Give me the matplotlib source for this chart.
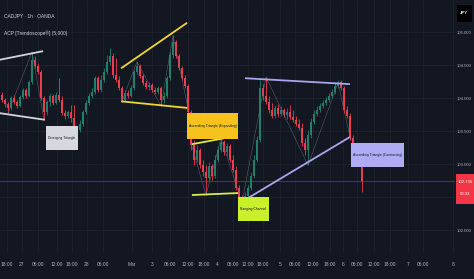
import matplotlib
matplotlib.use("Agg")
import matplotlib.pyplot as plt
import numpy as np
from matplotlib.patches import Rectangle
from matplotlib.transforms import IdentityTransform

# ---------------- data (CADJPY 1h, OANDA) ----------------
first_open = 104.05
closes = [103.97, 103.91, 103.85, 104.00, 103.94, 103.88, 104.02, 104.12, 104.03, 104.24,
          104.58, 104.48, 104.39, 104.00, 103.79, 103.94, 104.03, 103.92, 104.05, 103.97,
          103.77, 103.73, 103.79, 103.70, 103.39, 103.52, 103.61, 103.79, 103.92, 104.03,
          104.09, 104.30, 104.12, 104.27, 104.39, 104.55, 104.64, 104.35, 104.27, 104.15,
          103.97, 104.08, 104.03, 104.15, 104.39, 104.48, 104.33, 104.23, 104.17, 104.20,
          104.12, 104.09, 104.15, 103.97, 104.03, 104.30, 104.65, 104.85, 104.64, 104.45,
          104.30, 104.18, 103.79, 103.29, 103.06, 103.21, 102.98, 102.88, 102.79, 102.97,
          102.82, 103.06, 103.21, 103.33, 103.18, 103.27, 103.06, 102.91, 102.64, 102.49,
          102.42, 102.52, 102.64, 102.82, 103.06, 103.36, 104.15, 104.03, 103.94, 103.82,
          103.73, 103.85, 103.76, 103.82, 103.74, 103.79, 103.71, 103.67, 103.61, 103.55,
          103.32, 103.21, 103.44, 103.64, 103.76, 103.82, 103.88, 103.92, 103.97, 104.03,
          104.09, 104.18, 104.24, 104.15, 103.82, 103.73, 103.39, 103.24, 103.12, 103.00,
          102.736]
highs = [104.09, 104.00, 103.94, 104.03, 104.05, 103.97, 104.05, 104.15, 104.15, 104.27,
         104.70, 104.64, 104.53, 104.42, 104.03, 103.97, 104.08, 104.06, 104.09, 104.30,
         104.03, 103.82, 103.82, 103.89, 103.89, 103.56, 103.67, 103.82, 103.97, 104.08,
         104.15, 104.33, 104.33, 104.35, 104.45, 104.65, 104.76, 104.68, 104.61, 104.33,
         104.18, 104.12, 104.12, 104.20, 104.42, 104.55, 104.52, 104.36, 104.27, 104.24,
         104.23, 104.17, 104.18, 104.18, 104.09, 104.33, 104.70, 104.95, 104.88, 104.67,
         104.48, 104.35, 104.21, 103.82, 103.36, 103.29, 103.24, 103.06, 102.98, 103.03,
         103.00, 103.14, 103.27, 103.39, 103.36, 103.32, 103.30, 103.14, 102.97, 102.68,
         102.53, 102.58, 102.68, 102.88, 103.14, 103.42, 104.27, 104.21, 104.32, 104.03,
         103.92, 103.89, 103.91, 103.88, 103.85, 103.85, 103.89, 103.82, 103.73, 103.68,
         103.62, 103.39, 103.52, 103.70, 103.82, 103.88, 103.92, 103.97, 104.02, 104.08,
         104.14, 104.24, 104.27, 104.27, 104.18, 103.88, 103.77, 103.44, 103.29, 103.15,
         103.03]
lows = [103.94, 103.86, 103.77, 103.82, 103.91, 103.85, 103.86, 103.98, 104.00, 104.02,
        104.21, 104.45, 104.36, 103.97, 103.67, 103.74, 103.88, 103.89, 103.91, 103.94,
        103.74, 103.68, 103.70, 103.64, 103.35, 103.36, 103.48, 103.58, 103.76, 103.89,
        104.00, 104.06, 104.09, 104.09, 104.24, 104.36, 104.50, 104.30, 104.24, 104.12,
        103.94, 103.95, 104.00, 104.02, 104.12, 104.36, 104.30, 104.20, 104.14, 104.12,
        104.09, 104.06, 104.06, 103.88, 103.92, 104.00, 104.27, 104.61, 104.61, 104.42,
        104.27, 104.15, 103.74, 103.21, 102.98, 103.03, 102.94, 102.82, 102.53, 102.76,
        102.76, 102.79, 103.03, 103.18, 103.14, 103.12, 103.03, 102.88, 102.61, 102.45,
        102.38, 102.39, 102.49, 102.61, 102.79, 103.03, 103.33, 103.97, 103.91, 103.77,
        103.70, 103.70, 103.71, 103.73, 103.71, 103.68, 103.68, 103.64, 103.58, 103.52,
        103.27, 103.14, 102.98, 103.39, 103.61, 103.73, 103.79, 103.85, 103.89, 103.94,
        104.00, 104.06, 104.15, 104.12, 103.77, 103.70, 103.36, 103.21, 103.09, 102.97,
        102.58]
opens = [first_open] + closes[:-1]
last_price = 102.736

# time axis
tick_pos = [1.67, 6.67, 12, 18.33, 23.33, 28.33, 33.67, 43.33, 50, 56, 62, 67.33, 71.67,
            77, 82, 87, 92.67, 97.67, 103.67, 109.33, 113.67, 118.33, 124, 129.33,
            135.33, 140.33, 150.33]
tick_lbl = ["18:00", "27", "06:00", "12:00", "18:00", "28", "06:00", "Mar", "3", "06:00",
            "12:00", "18:00", "4", "06:00", "12:00", "18:00", "5", "06:00", "12:00",
            "18:00", "6", "06:00", "12:00", "18:00", "7", "06:00", "8"]
price_ticks = [102.0, 102.5, 103.0, 103.5, 104.0, 104.5, 105.0]

# chart patterns: trend lines (bar index, price)
pat_names = ["Diverging Triangle", "Ascending Triangle (Expanding)",
             "Ranging Channel", "Ascending Triangle (Contracting)"]
upper_x = [(-0.7, 13.7), (39.7, 61.7), (63.3, 74.0), (81.0, 116.0)]
upper_y = [(104.58, 104.71), (104.45, 105.14), (103.30, 103.39), (104.30, 104.21)]
lower_x = [(-0.7, 14.3), (39.7, 61.7), (63.3, 78.7), (79.3, 116.0)]
lower_y = [(103.77, 103.67), (103.95, 103.85), (102.53, 102.56), (102.41, 103.41)]
# zigzag pivots
piv_x = [[2, 10, 14], [40, 45, 53, 57, 62], [63, 68, 73, 79], [80, 88, 102, 112, 116]]
piv_y = [[103.77, 104.70, 103.67], [103.95, 104.55, 103.88, 104.95, 103.85],
         [103.32, 102.53, 103.39, 102.56], [102.42, 104.32, 102.98, 104.23, 103.41]]
# label anchors
lab_x = [20, 70.3, 83.7, 125.3]
lab_y = [103.39, 103.58, 102.32, 103.14]

# ---------------- style ----------------
BG = "#131722"
GRID = "#1e2230"
UP = "#21806c"
DOWN = "#ef3b4f"
TXT = "#b2b5be"
line_cols = ["#d1d4dc", "#f2d633", "#d7ea55", "#a9a6ee"]
box_cols = ["#d6d8de", "#f6c21c", "#c9f02b", "#b0acf4"]
box_size = [(32, 24), (51, 26), (31, 24), (53, 24)]
FONT = ["Liberation Sans", "DejaVu Sans"]

W, H = 474, 279
fig = plt.figure(figsize=(W / 100, H / 100), dpi=100, facecolor=BG)
ax = fig.add_axes([0, 27 / H, 455 / W, 252 / H])
ax.set_facecolor(BG)
ax.set_xlim(-0.667, 151)
ax.set_ylim(101.667, 105.485)

x = np.arange(len(closes))
o = np.array(opens)
c = np.array(closes)
hi = np.array(highs)
lo = np.array(lows)
up = c >= o
cols = np.where(up, UP, DOWN)

ax.vlines(x, lo, hi, colors=cols, lw=0.6, zorder=3)
body_h = np.maximum(np.abs(c - o), 0.006)
ax.bar(x, body_h, bottom=np.minimum(o, c), width=0.7, color=cols, linewidth=0, zorder=3)

# current price line
ax.axhline(last_price, color="#8a2232", lw=0.7, zorder=2)

# zigzag and pattern lines
for k in range(len(pat_names)):
    ax.plot(piv_x[k], piv_y[k], color="#6a6d78", lw=0.4, alpha=0.8, zorder=4)
    ax.plot(upper_x[k], upper_y[k], color=line_cols[k], lw=1.3, solid_capstyle="butt", zorder=5)
    ax.plot(lower_x[k], lower_y[k], color=line_cols[k], lw=1.3, solid_capstyle="butt", zorder=5)

# grid and axes
ax.set_yticks(price_ticks)
ax.set_yticklabels([f"{p:.3f}" for p in price_ticks])
ax.yaxis.tick_right()
ax.set_xticks(tick_pos)
ax.set_xticklabels(tick_lbl)
ax.tick_params(axis="both", length=0, labelcolor=TXT)
ax.tick_params(axis="x", pad=7, labelsize=3.5)
ax.tick_params(axis="y", pad=1.5, labelsize=3.1)
for lab in ax.get_xticklabels() + ax.get_yticklabels():
    lab.set_family(FONT)
ax.grid(True, color=GRID, lw=0.6, zorder=0)
for s in ax.spines.values():
    s.set_visible(False)

# pattern labels (boxes in pixels around data anchors)
fig.canvas.draw()
for k in range(len(pat_names)):
    dx, dy = ax.transData.transform((lab_x[k], lab_y[k]))
    bw, bh = box_size[k]
    ax.add_patch(Rectangle((dx - bw / 2, dy - bh / 2), bw, bh, transform=IdentityTransform(),
                           facecolor=box_cols[k], edgecolor="none", zorder=6, clip_on=False))
    ax.text(lab_x[k], lab_y[k], pat_names[k], ha="center", va="center", fontsize=2.4,
            color="#131722", family=FONT, zorder=7)

# header texts
fig.text(4 / W, 1 - 17 / H, "CADJPY · 1h · OANDA", fontsize=3.5, color="#d1d4dc",
         va="center", family=FONT)
fig.text(4 / W, 1 - 33 / H, "ACP [Trendoscope®] (5,000)", fontsize=3.5, color="#d1d4dc",
         va="center", family=FONT)

# JPY box
fig.patches.append(Rectangle((457 / W, 1 - 22 / H), 15 / W, 17 / H, transform=fig.transFigure,
                             facecolor="#000000", edgecolor="none", figure=fig))
fig.text(464.5 / W, 1 - 13.5 / H, "JPY", fontsize=3.2, color="#e0e3eb", ha="center",
         va="center", family=FONT, fontweight="bold")

# current price box
fig.patches.append(Rectangle((456 / W, 1 - 204 / H), 18 / W, 30 / H, transform=fig.transFigure,
                             facecolor="#f23645", edgecolor="none", figure=fig))
fig.text(465 / W, 1 - 182 / H, f"{last_price:.3f}", fontsize=3.1, color="#ffffff", ha="center",
         va="center", family=FONT)
fig.text(465 / W, 1 - 194 / H, "00:33", fontsize=3.1, color="#ffffff", ha="center",
         va="center", family=FONT)

fig.savefig("out.png", dpi=100, facecolor=BG)
